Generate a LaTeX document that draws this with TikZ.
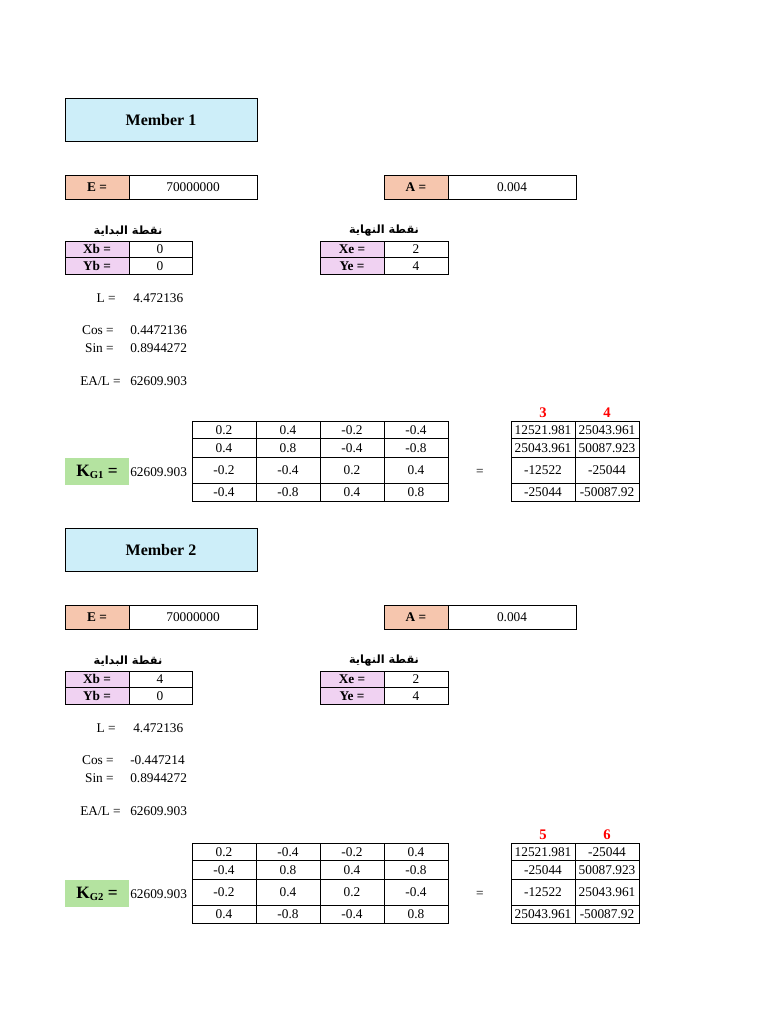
\documentclass[tikz,border=0pt]{standalone}
\usepackage{fontspec}
\setmainfont{Liberation Serif}
\newfontfamily\arabicfont[Script=Arabic]{DejaVu Sans}
\TeXXeTstate=1
\definecolor{hb}{HTML}{CDEEF9}
\definecolor{org}{HTML}{F6C6AE}
\definecolor{pnk}{HTML}{F0D2F2}
\definecolor{grn}{HTML}{B4E3A0}
\tikzset{cell/.style={draw,line width=0.7pt},t/.style={font=\fontsize{10}{12}\selectfont,inner sep=0pt},
 bt/.style={font=\bfseries\fontsize{10}{12}\selectfont,inner sep=0pt},
 ar/.style={font=\arabicfont\bfseries\fontsize{8.5}{10}\selectfont,inner sep=0pt}}
\begin{document}
\begin{tikzpicture}[x=0.75pt,y=-0.75pt]
\useasboundingbox (0,0) rectangle (768,1024);
\foreach \dy/\mn/\cs in {0/1/0.4472136, 430/2/-0.447214}{
\begin{scope}[shift={(0,\dy)}]
\ifnum\mn=1 \def\xbv{0}\else\def\xbv{4}\fi
\draw[cell,fill=hb] (65,98) rectangle (257,141);
\node[font=\bfseries\fontsize{12}{14}\selectfont] (mh\mn) at (161,120) {Member \mn};
\draw[cell,fill=org] (65,175) rectangle (129,199); \draw[cell] (129,175) rectangle (257,199);
\node[bt] (e\mn) at (97,187) {E =}; \node[t] (ev\mn) at (193,187) {70000000};
\draw[cell,fill=org] (384,175) rectangle (448,199); \draw[cell] (448,175) rectangle (576,199);
\node[bt] (a\mn) at (416,187) {A =}; \node[t] (av\mn) at (512,187) {0.004};
\node[ar] (ab\mn) at (128,231) {\beginR نقطة البداية\endR};
\node[ar] (ae\mn) at (384,231) {\beginR نقطة النهاية\endR};
\draw[cell,fill=pnk] (65,241) rectangle (129,274); \draw[cell] (129,241) rectangle (192,274);
\draw[cell] (65,257) -- (192,257);
\draw[cell,fill=pnk] (320,241) rectangle (384,274); \draw[cell] (384,241) rectangle (448,274);
\draw[cell] (320,257) -- (448,257);
\node[bt] (xb\mn) at (97,249) {Xb =}; \node[t] (xbv\mn) at (160,249) {\xbv};
\node[bt] (yb\mn) at (97,266) {Yb =}; \node[t] (ybv\mn) at (160,266) {0};
\node[bt] (xe\mn) at (352,249) {Xe =}; \node[t] (xev\mn) at (416,249) {2};
\node[bt] (ye\mn) at (352,266) {Ye =}; \node[t] (yev\mn) at (416,266) {4};
\node[t,anchor=east] (l\mn) at (116,298) {L =}; \node[t,anchor=west] (lv\mn) at (133,298) {4.472136};
\node[t,anchor=east] (c\mn) at (114,330) {Cos =}; \node[t,anchor=west] (cv\mn) at (130,330) {\cs};
\node[t,anchor=east] (s\mn) at (114,348) {Sin =}; \node[t,anchor=west] (sv\mn) at (130,348) {0.8944272};
\node[t,anchor=east] (ea\mn) at (121,381) {EA/L =}; \node[t,anchor=west] (eav\mn) at (130,381) {62609.903};
\end{scope}}
\foreach \dy/\mn/\hA/\hB/\Ma/\Mb/\Mc/\Md/\Ra/\Rb/\Rc/\Rd in {
 0/1/3/4/{0.2,0.4,-0.2,-0.4}/{0.4,0.8,-0.4,-0.8}/{-0.2,-0.4,0.2,0.4}/{-0.4,-0.8,0.4,0.8}/{12521.981,25043.961}/{25043.961,50087.923}/{-12522,-25044}/{-25044,-50087.92},
 422/2/5/6/{0.2,-0.4,-0.2,0.4}/{-0.4,0.8,0.4,-0.8}/{-0.2,0.4,0.2,-0.4}/{0.4,-0.8,-0.4,0.8}/{12521.981,-25044}/{-25044,50087.923}/{-12522,25043.961}/{25043.961,-50087.92}}{
\begin{scope}[shift={(0,\dy)}]
\fill[grn] (65,458) rectangle (129,485);
\node[font=\bfseries\fontsize{13}{15}\selectfont,inner sep=0pt] (kg\mn) at (97,472) {K\raisebox{-0.3ex}{\fontsize{8}{9}\selectfont G\mn} =};
\node[t,anchor=west] (kv\mn) at (130,472) {62609.903};
\node[t] (eq\mn) at (480,472) {=};
\node[font=\bfseries\fontsize{11}{13}\selectfont,text=red,inner sep=0pt] (h\hA) at (543,413) {\hA};
\node[font=\bfseries\fontsize{11}{13}\selectfont,text=red,inner sep=0pt] (h\hB) at (607,413) {\hB};
\draw[cell] (192,421) rectangle (448,501);
\draw[cell] (511,421) rectangle (639,501);
\foreach \yy in {438,457,483}{\draw[cell] (192,\yy)--(448,\yy); \draw[cell] (511,\yy)--(639,\yy);}
\foreach \xx in {256,320,384}{\draw[cell] (\xx,421)--(\xx,501);}
\draw[cell] (575,421)--(575,501);
\foreach \row/\yc in {\Ma/430,\Mb/448,\Mc/470,\Md/492}{
 \edef\lst{\row}
 \foreach \v [count=\i] in \lst {\node[t] at (192+64*\i-32,\yc) {\v};}}
\foreach \row/\yc in {\Ra/430,\Rb/448,\Rc/470,\Rd/492}{
 \edef\lst{\row}
 \foreach \v [count=\i] in \lst {\node[t] at (511+64*\i-32,\yc) {\v};}}
\end{scope}}
\end{tikzpicture}
\end{document}
